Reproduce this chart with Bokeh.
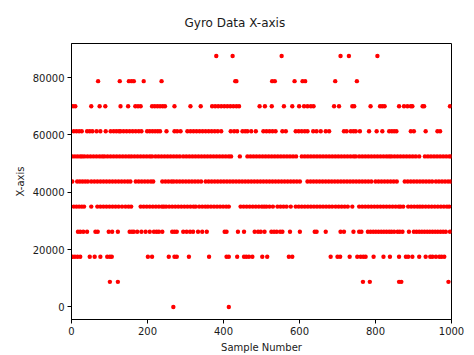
from bokeh.plotting import figure
from bokeh.models import Range1d, FixedTicker, NumeralTickFormatter, ColumnDataSource
from bokeh.embed import file_html
from bokeh.resources import INLINE

title_text = "Gyro Data X-axis"
x_label = "Sample Number"
y_label = "X-axis"
x_ticks = [0, 200, 400, 600, 800, 1000]
y_ticks = [0, 20000, 40000, 60000, 80000]

levels = [0, 8750, 17500, 26250, 35000, 43750, 52500, 61250, 70000, 78750, 87500]

samples_0 = [268, 414]
samples_8750 = [101, 122, 767, 785, 862, 868, 992]
samples_17500 = [3, 9, 16, 23, 48, 61, 76, 94, 101, 106, 201, 212, 256, 271, 277, 309, 362,
                 408, 414, 436, 454, 460, 467, 476, 502, 515, 572, 581, 682, 700, 707, 732,
                 752, 761, 768, 774, 795, 821, 838, 862, 880, 886, 897, 915, 932, 944, 950,
                 959, 968, 974, 981]
samples_26250 = [17, 23, 31, 41, 63, 69, 98, 107, 122, 153, 159, 164, 173, 184, 195, 206, 217,
                 224, 230, 239, 265, 271, 277, 294, 303, 312, 320, 333, 344, 356, 403, 408,
                 438, 454, 482, 491, 498, 508, 526, 533, 540, 549, 555, 575, 601, 640, 645,
                 669, 708, 717, 742, 757, 763, 780, 787, 794, 801, 808, 815, 822, 829, 836,
                 842, 849, 858, 864, 871, 888, 901, 908, 915, 922, 929, 936, 943, 950, 957,
                 964, 971, 978, 985, 996]
samples_35000 = [6, 13, 20, 27, 33, 52, 68, 76, 84, 92, 100, 108, 116, 124, 133, 142, 150, 157,
                 182, 190, 198, 206, 214, 222, 230, 238, 243, 249, 257, 265, 273, 281, 289,
                 297, 305, 313, 321, 327, 336, 344, 352, 359, 367, 375, 383, 391, 399, 407,
                 414, 445, 453, 461, 469, 477, 485, 493, 501, 507, 513, 521, 530, 542, 550,
                 558, 566, 577, 590, 598, 606, 614, 622, 630, 638, 646, 654, 662, 670, 678,
                 686, 695, 703, 711, 719, 727, 739, 757, 765, 773, 781, 789, 797, 805, 813,
                 821, 829, 837, 845, 853, 861, 866, 873, 886, 894, 902, 910, 917, 924, 932,
                 940, 948, 956, 964, 972, 980, 988, 994]
samples_43750 = [2, 15, 22, 29, 36, 43, 52, 60, 68, 76, 84, 92, 100, 108, 116, 124, 132, 140,
                 148, 155, 169, 177, 185, 193, 201, 209, 215, 239, 247, 255, 263, 269, 277,
                 285, 293, 301, 309, 317, 325, 333, 341, 353, 361, 369, 377, 385, 393, 401,
                 409, 417, 425, 433, 441, 449, 457, 465, 473, 481, 489, 497, 505, 513, 521,
                 529, 537, 545, 553, 561, 569, 577, 585, 593, 601, 621, 629, 637, 645, 653,
                 661, 669, 677, 685, 693, 701, 709, 717, 725, 733, 741, 749, 757, 765, 773,
                 781, 789, 800, 808, 816, 824, 832, 840, 848, 856, 877, 885, 893, 901, 909,
                 917, 925, 933, 941, 949, 959, 967, 975, 983, 991, 998]
samples_52500 = [2, 9, 16, 23, 28, 34, 42, 50, 58, 66, 74, 81, 87, 95, 103, 111, 119, 127, 135,
                 143, 151, 158, 166, 174, 182, 190, 198, 206, 212, 221, 229, 237, 245, 253,
                 261, 269, 277, 285, 294, 302, 310, 318, 326, 334, 342, 350, 358, 366, 374,
                 382, 390, 398, 406, 414, 420, 443, 463, 471, 479, 487, 495, 503, 511, 519,
                 527, 535, 543, 551, 559, 567, 575, 583, 591, 606, 614, 622, 630, 638, 646,
                 654, 662, 670, 678, 686, 694, 702, 710, 718, 726, 734, 742, 748, 757, 765,
                 773, 781, 789, 797, 805, 813, 821, 829, 836, 842, 850, 858, 866, 874, 882,
                 890, 898, 906, 915, 930, 938, 946, 954, 962, 970, 978, 986, 994, 999]
samples_61250 = [6, 13, 20, 27, 41, 48, 55, 66, 76, 90, 103, 111, 118, 125, 129, 137, 145, 153,
                 161, 169, 177, 184, 199, 206, 213, 220, 227, 233, 250, 271, 278, 287, 305,
                 313, 321, 329, 337, 345, 353, 361, 369, 377, 385, 394, 419, 428, 436, 450,
                 457, 463, 473, 485, 505, 513, 521, 529, 537, 555, 564, 590, 598, 606, 614,
                 621, 636, 645, 656, 669, 678, 717, 724, 735, 742, 748, 759, 783, 803, 818,
                 836, 843, 849, 855, 893, 901, 932, 963, 970]
samples_70000 = [4, 10, 52, 74, 89, 129, 149, 168, 175, 182, 212, 219, 226, 233, 240, 246, 271,
                 313, 340, 370, 378, 386, 394, 402, 410, 418, 426, 434, 441, 495, 509, 527,
                 559, 581, 599, 612, 621, 630, 637, 691, 704, 739, 744, 787, 812, 818, 824,
                 862, 875, 884, 893, 897, 924, 928, 996]
samples_78750 = [70, 127, 151, 158, 164, 190, 237, 431, 434, 528, 535, 587, 608, 615, 694, 751]
samples_87500 = [381, 424, 553, 708, 730, 805]

samples_by_level = [samples_0, samples_8750, samples_17500, samples_26250, samples_35000,
                    samples_43750, samples_52500, samples_61250, samples_70000,
                    samples_78750, samples_87500]

xs, ys = [], []
for lv, s in zip(levels, samples_by_level):
    xs.extend(s)
    ys.extend([lv] * len(s))

source = ColumnDataSource(data=dict(x=xs, y=ys))

FONT = "DejaVu Sans"
TXT = "#1a1a1a"

p = figure(width=474, height=355, x_range=Range1d(0, 1000), y_range=Range1d(-4375, 91875),
           output_backend="svg", toolbar_location=None,
           min_border_left=71, min_border_right=23, min_border_top=43, min_border_bottom=36)

p.title.text = title_text
p.title.align = "left"
p.title.offset = 113
p.title.vertical_align = "top"
p.title.standoff = 23
p.title.text_font = FONT
p.title.text_font_size = "12px"
p.title.text_font_style = "normal"
p.title.text_color = TXT

p.scatter("x", "y", source=source, size=4.4, marker="circle",
          fill_color="#ff0000", line_color=None)

p.xgrid.visible = False
p.ygrid.visible = False
p.outline_line_color = "black"
p.outline_line_width = 1

p.xaxis.ticker = FixedTicker(ticks=x_ticks)
p.yaxis.ticker = FixedTicker(ticks=y_ticks)
p.yaxis.formatter = NumeralTickFormatter(format="0")
p.xaxis.formatter = NumeralTickFormatter(format="0")
p.xaxis.axis_label = x_label
p.yaxis.axis_label = y_label

for ax in (p.xaxis, p.yaxis):
    ax.axis_line_color = "black"
    ax.major_tick_line_color = "black"
    ax.minor_tick_line_color = None
    ax.major_tick_out = 4
    ax.major_tick_in = 0
    ax.major_label_text_font = FONT
    ax.major_label_text_font_size = "10px"
    ax.major_label_text_color = TXT
    ax.axis_label_text_font = FONT
    ax.axis_label_text_font_size = "10px"
    ax.axis_label_text_font_style = "normal"
    ax.axis_label_text_color = TXT
    ax.major_label_standoff = 3
    ax.axis_label_standoff = 4

open("out.html", "w").write(file_html(p, INLINE))
